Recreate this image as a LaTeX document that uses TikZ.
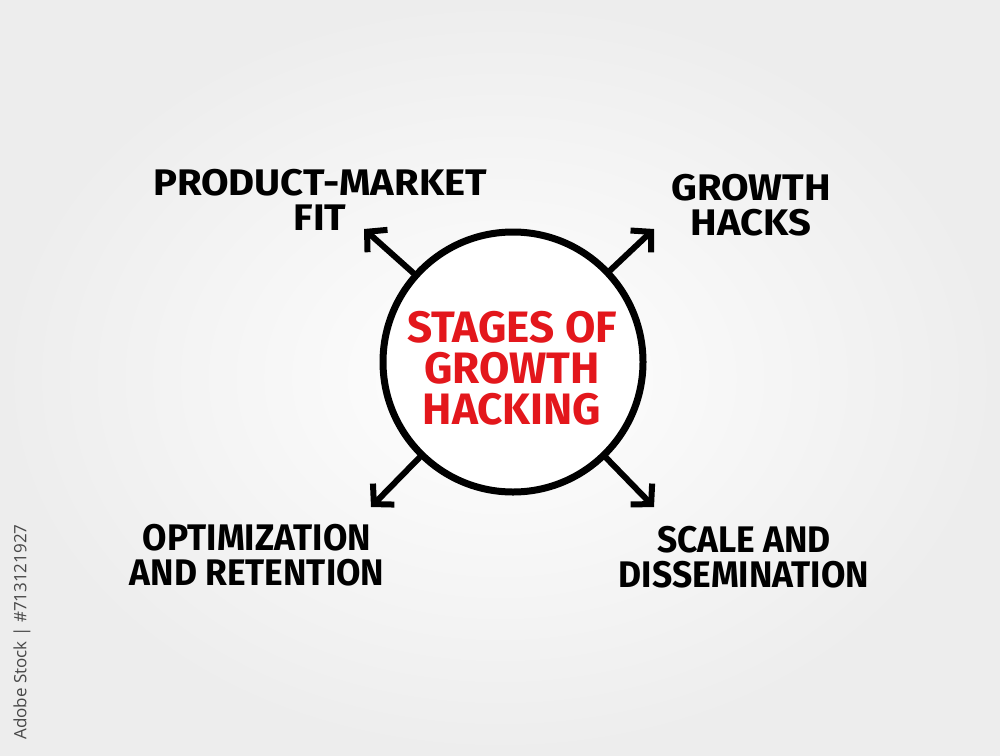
\documentclass[tikz,border=0pt]{standalone}
\usepackage{fontspec}
\setmainfont{Fira Sans}
\newfontfamily\wmfont{Open Sans}
\usetikzlibrary{arrows.meta,shadings}
\definecolor{markred}{HTML}{E3171C}
\definecolor{bgedge}{HTML}{EDEDED}
\tikzset{
  lbl/.style={font=\fontsize{37}{35}\selectfont\bfseries, align=center, text=black, inner sep=0pt, xscale=1.08},
  lblnarrow/.style={lbl, xscale=0.885},
  ctr/.style={font=\fontsize{44}{41}\selectfont\bfseries, align=center, text=markred, inner sep=0pt},
  ring/.style={circle, draw=black, line width=7pt, fill=white, minimum size=260pt, inner sep=0pt},
  arr/.style={line width=6pt, line cap=round, line join=round, -{Straight Barb[length=14pt,width=30pt,line width=6pt]}},
}
\begin{document}
\begin{tikzpicture}[x=1pt,y=-1pt]
  \shade[inner color=white, outer color=bgedge] (0,0) rectangle (1000,755);
  \useasboundingbox (0,0) rectangle (1000,755);
  \node[ring] (c) at (513,362) {};
  \node[ctr] (title) at (512,368) {STAGES OF\\GROWTH\\HACKING};
  \coordinate (tUL) at (364,229);
  \coordinate (tUR) at (654,229);
  \coordinate (tLL) at (371,507);
  \coordinate (tLR) at (654,507);
  \draw[arr] (c) -- (tUL);
  \draw[arr] (c) -- (tUR);
  \draw[arr] (c) -- (tLL);
  \draw[arr] (c) -- (tLR);
  \node[lbl] (pmf) at (320,200) {PRODUCT-MARKET\\FIT};
  \node[lbl] (gh) at (751,205) {GROWTH\\HACKS};
  \node[lblnarrow] (oar) at (257,555) {OPTIMIZATION\\AND RETENTION};
  \node[lblnarrow] (sad) at (744,557) {SCALE AND\\DISSEMINATION};
  \node[font=\wmfont\fontsize{17}{17}\selectfont, text=black!72, rotate=90, inner sep=0pt] (wm) at (22,632) {Adobe Stock | \#713121927};
\end{tikzpicture}
\end{document}
